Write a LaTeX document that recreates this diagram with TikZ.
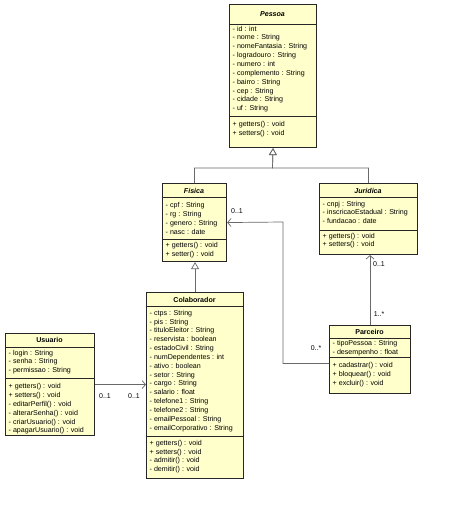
\documentclass[tikz,border=0pt]{standalone}
\usepackage{fontspec}
\setmainfont{Liberation Sans}
\usetikzlibrary{arrows.meta}
\definecolor{classfill}{RGB}{255,255,204}
\definecolor{linkgrey}{RGB}{105,105,105}
\tikzset{
  classbox/.style={draw=black!85, line width=1.1pt, fill=classfill, inner sep=0pt, anchor=north west},
  classname/.style={font=\fontsize{7.1}{8}\selectfont\bfseries, inner sep=0pt},
  members/.style={font=\fontsize{7.1}{8.85}\selectfont, align=left, anchor=north west, inner sep=0pt},
  divider/.style={draw=black!85, line width=0.8pt},
  inherit/.style={draw=linkgrey, line width=0.7pt, -{Triangle[open, length=7pt, width=8pt]}},
  assoc/.style={draw=linkgrey, line width=0.7pt, -{Straight Barb[length=3.5pt, width=8pt]}},
  mult/.style={font=\fontsize{7}{8}\selectfont, inner sep=0pt}
}
\begin{document}
\begin{tikzpicture}[x=1pt, y=-1pt]
\useasboundingbox (0,0) rectangle (474,527);

% Pessoa
\node[classbox, minimum width=87pt, minimum height=143pt] (pessoa) at (229,4) {};
\node[classname, font=\fontsize{7.1}{8}\selectfont\bfseries\itshape] (pessoa-name) at (272.5,14) {Pessoa};
\draw[divider] (229,24) -- (316,24);
\draw[divider] (229,116) -- (316,116);
\node[members] (pessoa-attr) at (232.5,25.8) {- id : int\\- nome : String\\- nomeFantasia : String\\- logradouro : String\\- numero : int\\- complemento : String\\- bairro : String\\- cep : String\\- cidade : String\\- uf : String};
\node[members] (pessoa-ops) at (232.5,121.3) {+ getters() : void\\+ setters() : void};

% Fisica
\node[classbox, minimum width=64pt, minimum height=78pt] (fisica) at (162,183) {};
\node[classname, font=\fontsize{7.1}{8}\selectfont\bfseries\itshape] (fisica-name) at (194,190.5) {Fisica};
\draw[divider] (162,197) -- (226,197);
\draw[divider] (162,239) -- (226,239);
\node[members] (fisica-attr) at (165.5,202.3) {- cpf : String\\- rg : String\\- genero : String\\- nasc : date};
\node[members] (fisica-ops) at (165.5,242.3) {+ getters() : void\\+ setter() : void};

% Juridica
\node[classbox, minimum width=98pt, minimum height=71pt] (juridica) at (319,183) {};
\node[classname, font=\fontsize{7.1}{8}\selectfont\bfseries\itshape] (juridica-name) at (368,190.5) {Juridica};
\draw[divider] (319,197) -- (417,197);
\draw[divider] (319,230) -- (417,230);
\node[members] (juridica-attr) at (322.5,200.8) {- cnpj : String\\- inscricaoEstadual : String\\- fundacao : date};
\node[members] (juridica-ops) at (322.5,232.8) {+ getters() : void\\+ setters() : void};

% Colaborador
\node[classbox, minimum width=97pt, minimum height=186pt] (colaborador) at (146,292) {};
\node[classname] (colaborador-name) at (194.5,299.5) {Colaborador};
\draw[divider] (146,306) -- (243,306);
\draw[divider] (146,436) -- (243,436);
\node[members] (colaborador-attr) at (149.5,309.8) {- ctps : String\\- pis : String\\- tituloEleitor : String\\- reservista : boolean\\- estadoCivil : String\\- numDependentes : int\\- ativo : boolean\\- setor : String\\- cargo : String\\- salario : float\\- telefone1 : String\\- telefone2 : String\\- emailPessoal : String\\- emailCorporativo : String};
\node[members] (colaborador-ops) at (149.5,439.8) {+ getters() : void\\+ setters() : void\\- admitir() : void\\- demitir() : void};

% Usuario
\node[classbox, minimum width=89pt, minimum height=102pt] (usuario) at (5,333) {};
\node[classname] (usuario-name) at (49.5,340) {Usuario};
\draw[divider] (5,347) -- (94,347);
\draw[divider] (5,378) -- (94,378);
\node[members] (usuario-attr) at (8.5,349.8) {- login : String\\- senha : String\\- permissao : String};
\node[members] (usuario-ops) at (8.5,383.3) {+ getters() : void\\+ setters() : void\\- editarPerfil() : void\\- alterarSenha() : void\\- criarUsuario() : void\\- apagarUsuario() : void};

% Parceiro
\node[classbox, minimum width=81pt, minimum height=68pt] (parceiro) at (329,325) {};
\node[classname] (parceiro-name) at (369.5,332) {Parceiro};
\draw[divider] (329,338) -- (410,338);
\draw[divider] (329,357) -- (410,357);
\node[members] (parceiro-attr) at (332.5,340.1) {- tipoPessoa : String\\- desempenho : float};
\node[members] (parceiro-ops) at (332.5,362.3) {+ cadastrar() : void\\+ bloquear() : void\\+ excluir() : void};

% heranca
\coordinate (genjoin) at (272.5,168);
\draw[inherit] (fisica.north) |- (genjoin) -- (pessoa.south);
\draw[inherit] (juridica.north) |- (genjoin) -- (pessoa.south);
\draw[inherit] (colaborador.north) -- (colaborador.north |- fisica.south);

% associacoes
\coordinate (bend) at (283,222);
\draw[assoc] ([yshift=-4pt]parceiro.west) -| (bend) -- (fisica.east);
\draw[assoc] (parceiro.north) -- (parceiro.north |- juridica.south);
\draw[assoc] (usuario.east) -- (usuario.east -| colaborador.west);

\node[mult] (m-fisica) at (237,211) {0..1};
\node[mult] (m-parceiro1) at (316,348) {0..*};
\node[mult] (m-juridica) at (379,264) {0..1};
\node[mult] (m-parceiro2) at (379,314) {1..*};
\node[mult] (m-usuario) at (105,396) {0..1};
\node[mult] (m-colaborador) at (134,396) {0..1};
\end{tikzpicture}
\end{document}
